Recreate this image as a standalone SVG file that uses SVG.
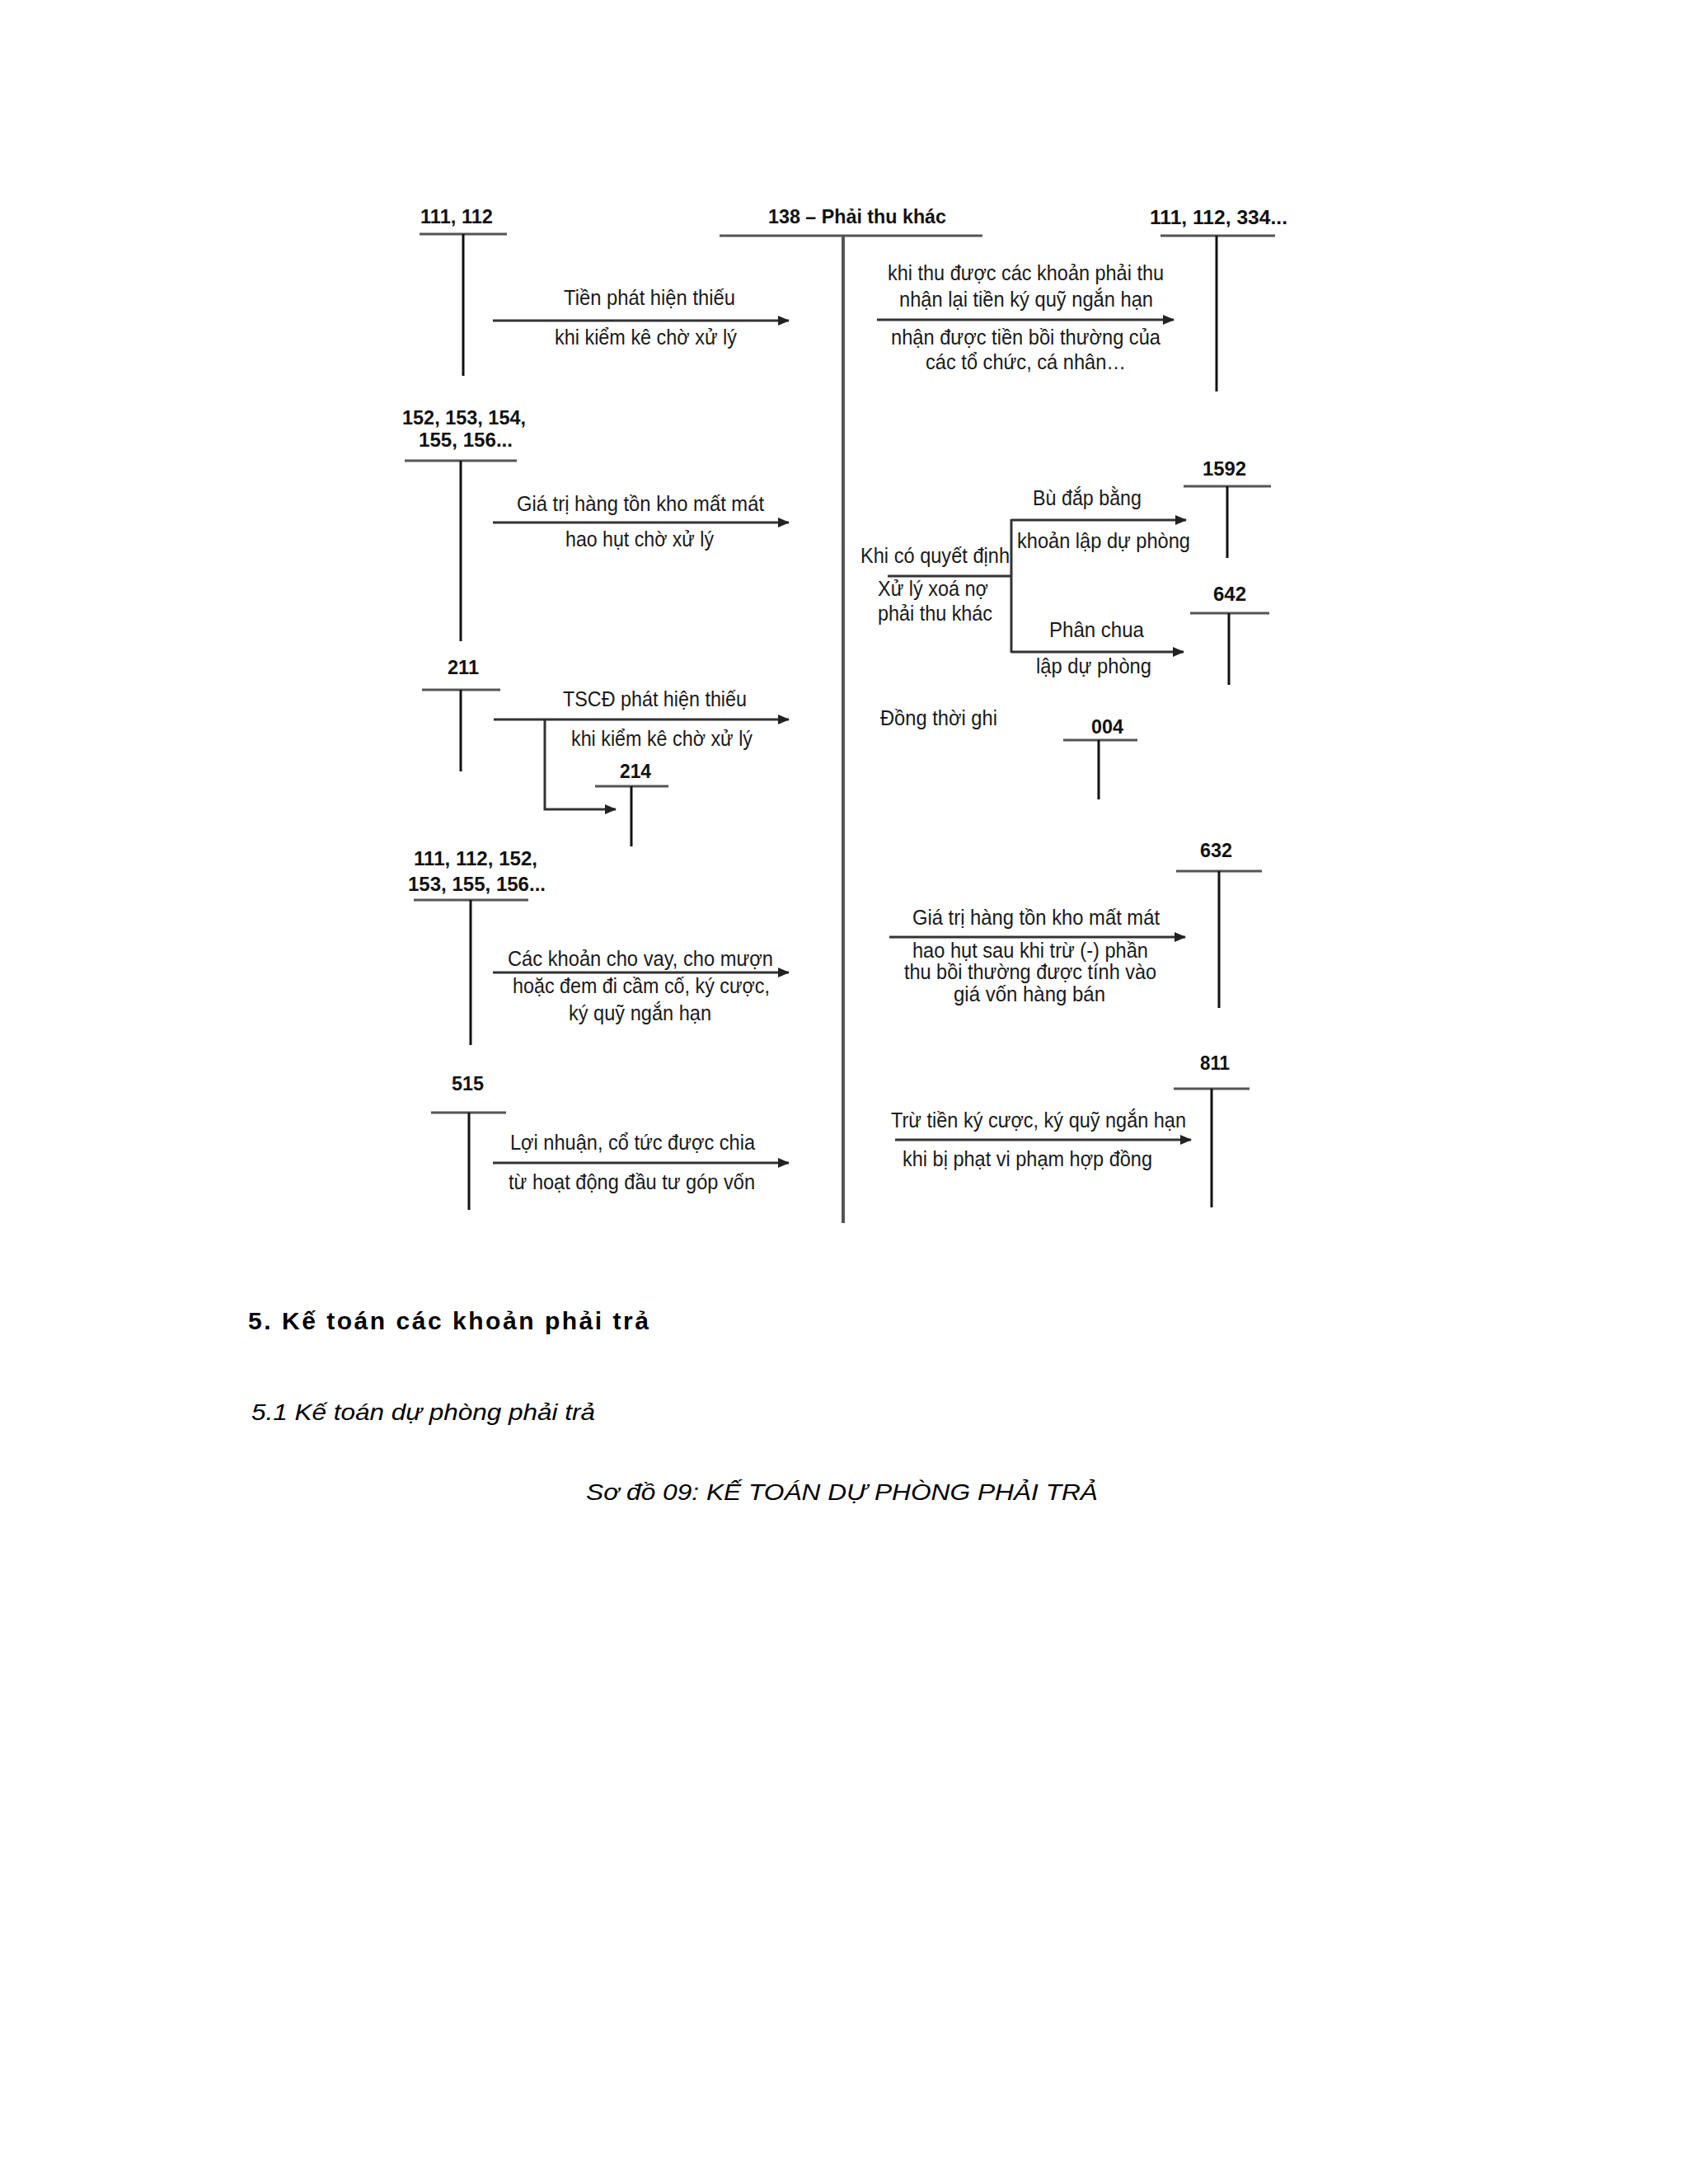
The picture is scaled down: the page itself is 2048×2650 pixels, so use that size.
<svg xmlns="http://www.w3.org/2000/svg" width="2048" height="2650" viewBox="0 0 2048 2650">
<style>
  .acc { font-family: "Liberation Sans", Arial, sans-serif; font-size: 24px; font-weight: bold; fill: #111; }
  .lbl { font-family: "Liberation Sans", Arial, sans-serif; font-size: 25px; fill: #1a1a1a; }
  .th { stroke: #555; stroke-width: 3; fill: none; }
  .tv { stroke: #111; stroke-width: 3; fill: none; }
  .main { stroke: #555; stroke-width: 4; fill: none; }
  .arr { stroke: #333; stroke-width: 3; fill: none; }
  .arrh { stroke: #333; stroke-width: 3; fill: none; marker-end: url(#ah); }
  .h1 { font-family: "Liberation Sans", Arial, sans-serif; font-size: 30px; font-weight: bold; fill: #000; }
  .h2 { font-family: "Liberation Sans", Arial, sans-serif; font-size: 28px; font-style: italic; fill: #000; }
</style>
<defs>
  <marker id="ah" markerWidth="14" markerHeight="12" refX="13" refY="6" orient="auto" markerUnits="userSpaceOnUse">
    <path d="M0,0 L14,6 L0,12 z" fill="#222"/>
  </marker>
</defs>
<rect width="2048" height="2650" fill="#fff"/>

<g id="node-111-112">
  <text class="acc" x="510" y="271" textLength="88" lengthAdjust="spacingAndGlyphs">111, 112</text>
  <line class="th" x1="509" y1="284" x2="615" y2="284"/>
  <line class="tv" x1="562" y1="284" x2="562" y2="456"/>
</g>
<g id="node-138">
  <text class="acc" x="932" y="271" textLength="216" lengthAdjust="spacingAndGlyphs">138 – Phải thu khác</text>
  <line class="th" x1="873" y1="286" x2="1192" y2="286"/>
  <line class="main" x1="1023" y1="286" x2="1023" y2="1484"/>
</g>
<g id="node-111-112-334">
  <text class="acc" x="1395" y="272" textLength="167" lengthAdjust="spacingAndGlyphs">111, 112, 334...</text>
  <line class="th" x1="1408" y1="286" x2="1547" y2="286"/>
  <line class="tv" x1="1476" y1="286" x2="1476" y2="475"/>
</g>
<g id="node-152">
  <text class="acc" x="488" y="515" textLength="150" lengthAdjust="spacingAndGlyphs">152, 153, 154,</text>
  <text class="acc" x="508" y="542" textLength="114" lengthAdjust="spacingAndGlyphs">155, 156...</text>
  <line class="th" x1="491" y1="559" x2="627" y2="559"/>
  <line class="tv" x1="559" y1="559" x2="559" y2="778"/>
</g>
<g id="node-211">
  <text class="acc" x="543" y="818" textLength="38" lengthAdjust="spacingAndGlyphs">211</text>
  <line class="th" x1="512" y1="837" x2="607" y2="837"/>
  <line class="tv" x1="559" y1="837" x2="559" y2="936"/>
</g>
<g id="node-214">
  <text class="acc" x="752" y="944" textLength="38" lengthAdjust="spacingAndGlyphs">214</text>
  <line class="th" x1="722" y1="954" x2="811" y2="954"/>
  <line class="tv" x1="766" y1="954" x2="766" y2="1027"/>
</g>
<g id="node-1592">
  <text class="acc" x="1459" y="577" textLength="53" lengthAdjust="spacingAndGlyphs">1592</text>
  <line class="th" x1="1436" y1="590" x2="1542" y2="590"/>
  <line class="tv" x1="1489" y1="590" x2="1489" y2="677"/>
</g>
<g id="node-642">
  <text class="acc" x="1472" y="729" textLength="40" lengthAdjust="spacingAndGlyphs">642</text>
  <line class="th" x1="1444" y1="744" x2="1540" y2="744"/>
  <line class="tv" x1="1491" y1="744" x2="1491" y2="831"/>
</g>
<g id="node-004">
  <text class="acc" x="1324" y="890" textLength="39" lengthAdjust="spacingAndGlyphs">004</text>
  <line class="th" x1="1290" y1="898" x2="1380" y2="898"/>
  <line class="tv" x1="1333" y1="898" x2="1333" y2="970"/>
</g>
<g id="node-111-112-152">
  <text class="acc" x="502" y="1050" textLength="150" lengthAdjust="spacingAndGlyphs">111, 112, 152,</text>
  <text class="acc" x="495" y="1081" textLength="167" lengthAdjust="spacingAndGlyphs">153, 155, 156...</text>
  <line class="th" x1="502" y1="1092" x2="641" y2="1092"/>
  <line class="tv" x1="571" y1="1092" x2="571" y2="1268"/>
</g>
<g id="node-632">
  <text class="acc" x="1456" y="1040" textLength="39" lengthAdjust="spacingAndGlyphs">632</text>
  <line class="th" x1="1427" y1="1057" x2="1531" y2="1057"/>
  <line class="tv" x1="1479" y1="1057" x2="1479" y2="1223"/>
</g>
<g id="node-515">
  <text class="acc" x="548" y="1323" textLength="39" lengthAdjust="spacingAndGlyphs">515</text>
  <line class="th" x1="523" y1="1350" x2="614" y2="1350"/>
  <line class="tv" x1="569" y1="1350" x2="569" y2="1468"/>
</g>
<g id="node-811">
  <text class="acc" x="1456" y="1298" textLength="36" lengthAdjust="spacingAndGlyphs">811</text>
  <line class="th" x1="1424" y1="1321" x2="1516" y2="1321"/>
  <line class="tv" x1="1470" y1="1321" x2="1470" y2="1465"/>
</g>
<g id="note-dong-thoi-ghi">
  <text class="lbl" x="1068" y="880" textLength="142" lengthAdjust="spacingAndGlyphs">Đồng thời ghi</text>
</g>

<g id="connectors">
  <g id="c1">
    <line class="arrh" x1="598" y1="389" x2="957" y2="389"/>
    <text class="lbl" x="684" y="370" textLength="208" lengthAdjust="spacingAndGlyphs">Tiền phát hiện thiếu</text>
    <text class="lbl" x="673" y="418" textLength="221" lengthAdjust="spacingAndGlyphs">khi kiểm kê chờ xử lý</text>
  </g>
  <g id="c2">
    <line class="arrh" x1="1064" y1="388" x2="1424" y2="388"/>
    <text class="lbl" x="1077" y="340" textLength="335" lengthAdjust="spacingAndGlyphs">khi thu được các khoản phải thu</text>
    <text class="lbl" x="1091" y="372" textLength="308" lengthAdjust="spacingAndGlyphs">nhận lại tiền ký quỹ ngắn hạn</text>
    <text class="lbl" x="1081" y="418" textLength="327" lengthAdjust="spacingAndGlyphs">nhận được tiền bồi thường của</text>
    <text class="lbl" x="1123" y="448" textLength="243" lengthAdjust="spacingAndGlyphs">các tổ chức, cá nhân…</text>
  </g>
  <g id="c3">
    <line class="arrh" x1="598" y1="634" x2="957" y2="634"/>
    <text class="lbl" x="627" y="620" textLength="300" lengthAdjust="spacingAndGlyphs">Giá trị hàng tồn kho mất mát</text>
    <text class="lbl" x="686" y="663" textLength="180" lengthAdjust="spacingAndGlyphs">hao hụt chờ xử lý</text>
  </g>
  <g id="c4">
    <line class="arr" x1="1077" y1="699" x2="1227" y2="699"/>
    <line class="arr" x1="1227" y1="630" x2="1227" y2="792"/>
    <line class="arrh" x1="1227" y1="631" x2="1439" y2="631"/>
    <line class="arrh" x1="1227" y1="791" x2="1436" y2="791"/>
    <text class="lbl" x="1044" y="683" textLength="181" lengthAdjust="spacingAndGlyphs">Khi có quyết định</text>
    <text class="lbl" x="1065" y="723" textLength="134" lengthAdjust="spacingAndGlyphs">Xử lý xoá nợ</text>
    <text class="lbl" x="1065" y="753" textLength="139" lengthAdjust="spacingAndGlyphs">phải thu khác</text>
    <text class="lbl" x="1253" y="613" textLength="132" lengthAdjust="spacingAndGlyphs">Bù đắp bằng</text>
    <text class="lbl" x="1234" y="665" textLength="210" lengthAdjust="spacingAndGlyphs">khoản lập dự phòng</text>
    <text class="lbl" x="1273" y="773" textLength="115" lengthAdjust="spacingAndGlyphs">Phân chua</text>
    <text class="lbl" x="1257" y="817" textLength="140" lengthAdjust="spacingAndGlyphs">lập dự phòng</text>
  </g>
  <g id="c5">
    <line class="arrh" x1="599" y1="873" x2="957" y2="873"/>
    <polyline class="arrh" points="661,873 661,982 747,982"/>
    <text class="lbl" x="683" y="857" textLength="223" lengthAdjust="spacingAndGlyphs">TSCĐ phát hiện thiếu</text>
    <text class="lbl" x="693" y="905" textLength="220" lengthAdjust="spacingAndGlyphs">khi kiểm kê chờ xử lý</text>
  </g>
  <g id="c6">
    <line class="arrh" x1="598" y1="1180" x2="957" y2="1180"/>
    <text class="lbl" x="616" y="1172" textLength="322" lengthAdjust="spacingAndGlyphs">Các khoản cho vay, cho mượn</text>
    <text class="lbl" x="622" y="1205" textLength="312" lengthAdjust="spacingAndGlyphs">hoặc đem đi cầm cố, ký cược,</text>
    <text class="lbl" x="690" y="1238" textLength="173" lengthAdjust="spacingAndGlyphs">ký quỹ ngắn hạn</text>
  </g>
  <g id="c7">
    <line class="arrh" x1="1079" y1="1137" x2="1438" y2="1137"/>
    <text class="lbl" x="1107" y="1122" textLength="300" lengthAdjust="spacingAndGlyphs">Giá trị hàng tồn kho mất mát</text>
    <text class="lbl" x="1107" y="1162" textLength="286" lengthAdjust="spacingAndGlyphs">hao hụt sau khi trừ (-) phần</text>
    <text class="lbl" x="1097" y="1188" textLength="306" lengthAdjust="spacingAndGlyphs">thu bồi thường được tính vào</text>
    <text class="lbl" x="1157" y="1215" textLength="184" lengthAdjust="spacingAndGlyphs">giá vốn hàng bán</text>
  </g>
  <g id="c8">
    <line class="arrh" x1="598" y1="1411" x2="957" y2="1411"/>
    <text class="lbl" x="619" y="1395" textLength="297" lengthAdjust="spacingAndGlyphs">Lợi nhuận, cổ tức được chia</text>
    <text class="lbl" x="617" y="1443" textLength="299" lengthAdjust="spacingAndGlyphs">từ hoạt động đầu tư góp vốn</text>
  </g>
  <g id="c9">
    <line class="arrh" x1="1086" y1="1383" x2="1445" y2="1383"/>
    <text class="lbl" x="1081" y="1368" textLength="358" lengthAdjust="spacingAndGlyphs">Trừ tiền ký cược, ký quỹ ngắn hạn</text>
    <text class="lbl" x="1095" y="1415" textLength="303" lengthAdjust="spacingAndGlyphs">khi bị phạt vi phạm hợp đồng</text>
  </g>
</g>

<g id="headings">
  <text class="h1" x="301" y="1613" textLength="486" lengthAdjust="spacing">5. Kế toán các khoản phải trả</text>
  <text class="h2" x="305" y="1723" textLength="417" lengthAdjust="spacingAndGlyphs">5.1 Kế toán dự phòng phải trả</text>
  <text class="h2" x="711" y="1820" textLength="621" lengthAdjust="spacingAndGlyphs">Sơ đồ 09: KẾ TOÁN DỰ PHÒNG PHẢI TRẢ</text>
</g>
</svg>
